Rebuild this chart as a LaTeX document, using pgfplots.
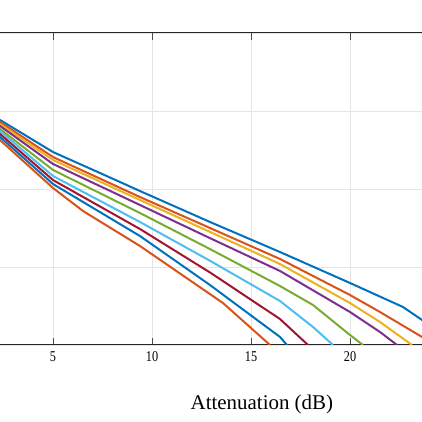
\documentclass[border=0pt]{standalone}
\usepackage{pgfplots}
\pgfplotsset{compat=1.18}
\usepackage{fontspec}
\setmainfont{Liberation Serif}
\definecolor{mblue}{RGB}{0,114,189}
\definecolor{mred}{RGB}{217,83,25}
\definecolor{myellow}{RGB}{237,177,32}
\definecolor{mpurple}{RGB}{126,47,142}
\definecolor{mgreen}{RGB}{119,172,48}
\definecolor{mcyan}{RGB}{77,190,238}
\definecolor{mmaroon}{RGB}{162,20,47}
\begin{document}
\begin{tikzpicture}
\begin{scope}
\clip (0,0) rectangle (422bp,422bp);
\begin{axis}[
  at={(-46bp,77bp)}, anchor=south west,
  scale only axis, width=495bp, height=312bp,
  xmin=0, xmax=25, ymin=0, ymax=4,
  xtick={5,10,15,20}, ytick={0,1,2,3,4},
  xticklabels={5,10,15,20},
  yticklabels={},
  tick align=inside,
  major tick length=7bp,
  tick style={black!70, line width=0.8bp},
  grid=major,
  major grid style={black!10, line width=0.6bp},
  axis line style={black!85, line width=1bp},
  every tick label/.append style={font=\fontsize{15}{15}\selectfont\addfontfeatures{FakeStretch=0.82}},
  x tick label style={yshift=-3bp},
  xlabel={Attenuation (dB)},
  xlabel style={at={(axis description cs:0.622,0)}, anchor=base, yshift=-64bp, font=\fontsize{21}{21}\selectfont},
  every axis plot/.append style={line width=2bp, line join=round},
  clip=true,
]
\addplot[mblue] coordinates {(2.2,2.90)(2.323,2.885)(5.0,2.474)(7.374,2.205)(9.394,1.974)(12.929,1.577)(16.465,1.192)(20.0,0.795)(22.677,0.487)(23.636,0.321)(24.14,0.231)};
\addplot[mred] coordinates {(2.2,2.875)(2.323,2.859)(5.0,2.410)(9.394,1.897)(12.929,1.50)(16.465,1.103)(20.0,0.641)(21.515,0.423)(23.636,0.103)(24.14,0.026)};
\addplot[myellow] coordinates {(2.2,2.85)(2.323,2.833)(5.0,2.372)(9.394,1.859)(12.929,1.45)(16.465,1.038)(20.0,0.538)(21.515,0.295)(23.131,0)};
\addplot[mpurple] coordinates {(2.2,2.83)(2.323,2.808)(5.0,2.321)(9.394,1.795)(12.929,1.37)(16.465,0.949)(20.0,0.423)(21.515,0.167)(22.374,0)};
\addplot[mgreen] coordinates {(2.2,2.79)(2.323,2.769)(5.0,2.244)(9.394,1.692)(12.929,1.23)(16.465,0.756)(18.131,0.513)(20.0,0.128)(20.657,0)};
\addplot[mcyan] coordinates {(2.2,2.77)(2.323,2.744)(5.0,2.167)(9.394,1.577)(12.929,1.08)(16.465,0.564)(18.131,0.231)(19.141,0)};
\addplot[mmaroon] coordinates {(2.2,2.73)(2.323,2.705)(5.0,2.115)(9.394,1.487)(12.929,0.93)(16.465,0.333)(17.879,0)};
\addplot[mblue] coordinates {(2.2,2.69)(2.323,2.667)(5.0,2.064)(9.394,1.397)(12.929,0.769)(16.465,0.103)(16.818,0)};
\addplot[mred] coordinates {(2.2,2.65)(2.323,2.628)(5.0,2.013)(6.515,1.718)(9.394,1.269)(13.586,0.538)(15.960,0)};
\end{axis}
\end{scope}
\pgfresetboundingbox
\path[use as bounding box] (0,0) rectangle (422bp,422bp);
\end{tikzpicture}
\end{document}
